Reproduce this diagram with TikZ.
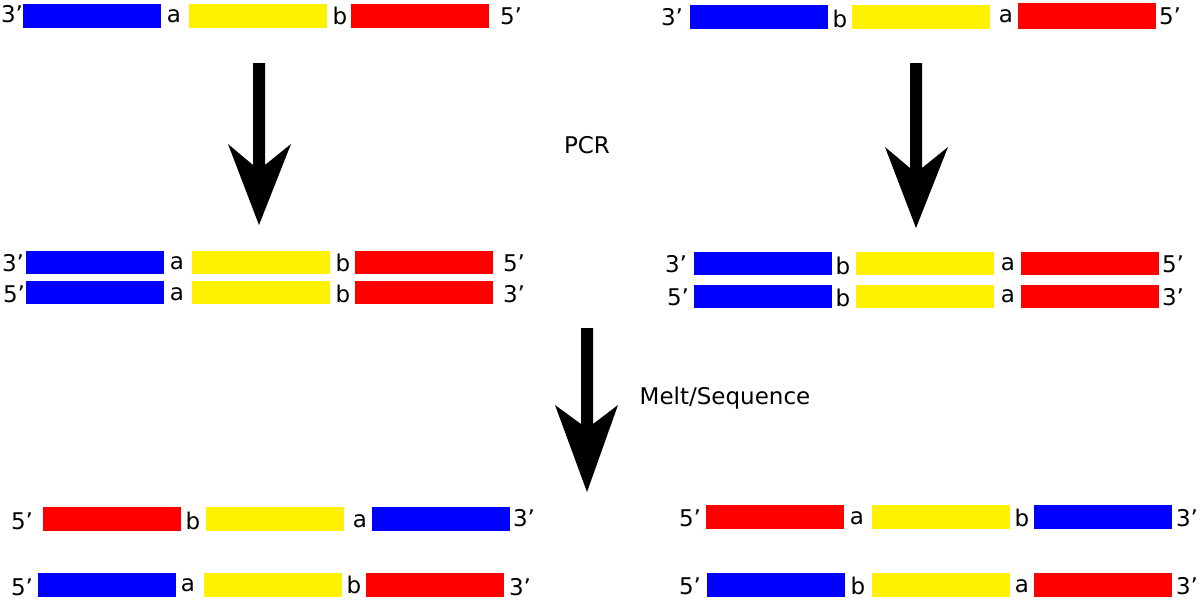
\documentclass[tikz,border=0pt]{standalone}
\usepackage{fontspec}
\setmainfont{DejaVu Sans}
\begin{document}
\begin{tikzpicture}[x=0.5pt,y=-0.5pt,
  lab/.style={font=\fontsize{11.5}{13}\selectfont,inner sep=0pt},
  arr/.style={fill=black,draw=none}]
\useasboundingbox (0,0) rectangle (1200,600);
\newcommand\seg[6]{\fill[#6] (#2,#4) rectangle (#3,#5) coordinate (#1);}
\newcommand\lab[3]{\node[lab] at (#1,#2) {#3};}
% strand: y1 y2 ; labels x ; colors
\newcommand\strand[9]{%
 % #1 y1, #2 y2, #3 start x of first seg, #4 second, #5 third, #6 c1, #7 c2, #8 c3, #9 prefix
 \seg{#9a}{#3}{#3+138}{#1}{#2}{#6}
 \seg{#9b}{#4}{#4+138}{#1}{#2}{#7}
 \seg{#9c}{#5}{#5+138}{#1}{#2}{#8}}
% Row 1
\strand{4}{28}{23}{189}{351}{blue}{yellow}{red}{ra}
\lab{12}{14}{3'}\lab{174}{16}{a}\lab{340}{16}{b}\lab{511}{16}{5'}
\strand{5}{29}{690}{852}{1018}{blue}{yellow}{red}{rb}
\fill[red] (1018,3) rectangle (1156,27);
\lab{672}{17}{3'}\lab{840}{19}{b}\lab{1006}{16}{a}\lab{1170}{16}{5'}
% arrows
\fill[arr] (253,63)--(265,63)--(265,165)--(291,144)--(259,225)--(228,144)--(253,165)--cycle;
\fill[arr] (910,63)--(922,63)--(922,168)--(948,147)--(916,228)--(885,147)--(910,168)--cycle;
\fill[arr] (581,328)--(593,328)--(593,424)--(618,405)--(587,492)--(555,405)--(581,424)--cycle;
\node[lab] (pcr) at (587,145) {PCR};
\node[lab] (melt) at (725,398) {Melt/Sequence};
% Row 2 left
\strand{251}{274}{26}{192}{355}{blue}{yellow}{red}{sa}
\lab{13}{263}{3'}\lab{177}{263}{a}\lab{343}{263}{b}\lab{514}{263}{5'}
\strand{281}{304}{26}{192}{355}{blue}{yellow}{red}{sb}
\lab{14}{294}{5'}\lab{177}{294}{a}\lab{343}{294}{b}\lab{514}{294}{3'}
% Row 2 right
\strand{252}{275}{694}{856}{1021}{blue}{yellow}{red}{sc}
\lab{676}{264}{3'}\lab{843}{266}{b}\lab{1008}{264}{a}\lab{1173}{264}{5'}
\strand{285}{308}{694}{856}{1021}{blue}{yellow}{red}{sd}
\lab{678}{297}{5'}\lab{843}{298}{b}\lab{1008}{296}{a}\lab{1173}{297}{3'}
% Row 3 left
\strand{507}{531}{43}{206}{372}{red}{yellow}{blue}{ta}
\lab{22}{521}{5'}\lab{193}{521}{b}\lab{360}{521}{a}\lab{524}{518}{3'}
\strand{573}{597}{38}{204}{366}{blue}{yellow}{red}{tb}
\lab{22}{587}{5'}\lab{188}{585}{a}\lab{354}{585}{b}\lab{520}{587}{3'}
% Row 3 right
\strand{505}{529}{706}{872}{1034}{red}{yellow}{blue}{tc}
\lab{690}{518}{5'}\lab{857}{518}{a}\lab{1022}{518}{b}\lab{1187}{518}{3'}
\strand{573}{597}{707}{872}{1034}{blue}{yellow}{red}{td}
\lab{690}{586}{5'}\lab{858}{586}{b}\lab{1022}{586}{a}\lab{1187}{586}{3'}
\end{tikzpicture}
\end{document}
